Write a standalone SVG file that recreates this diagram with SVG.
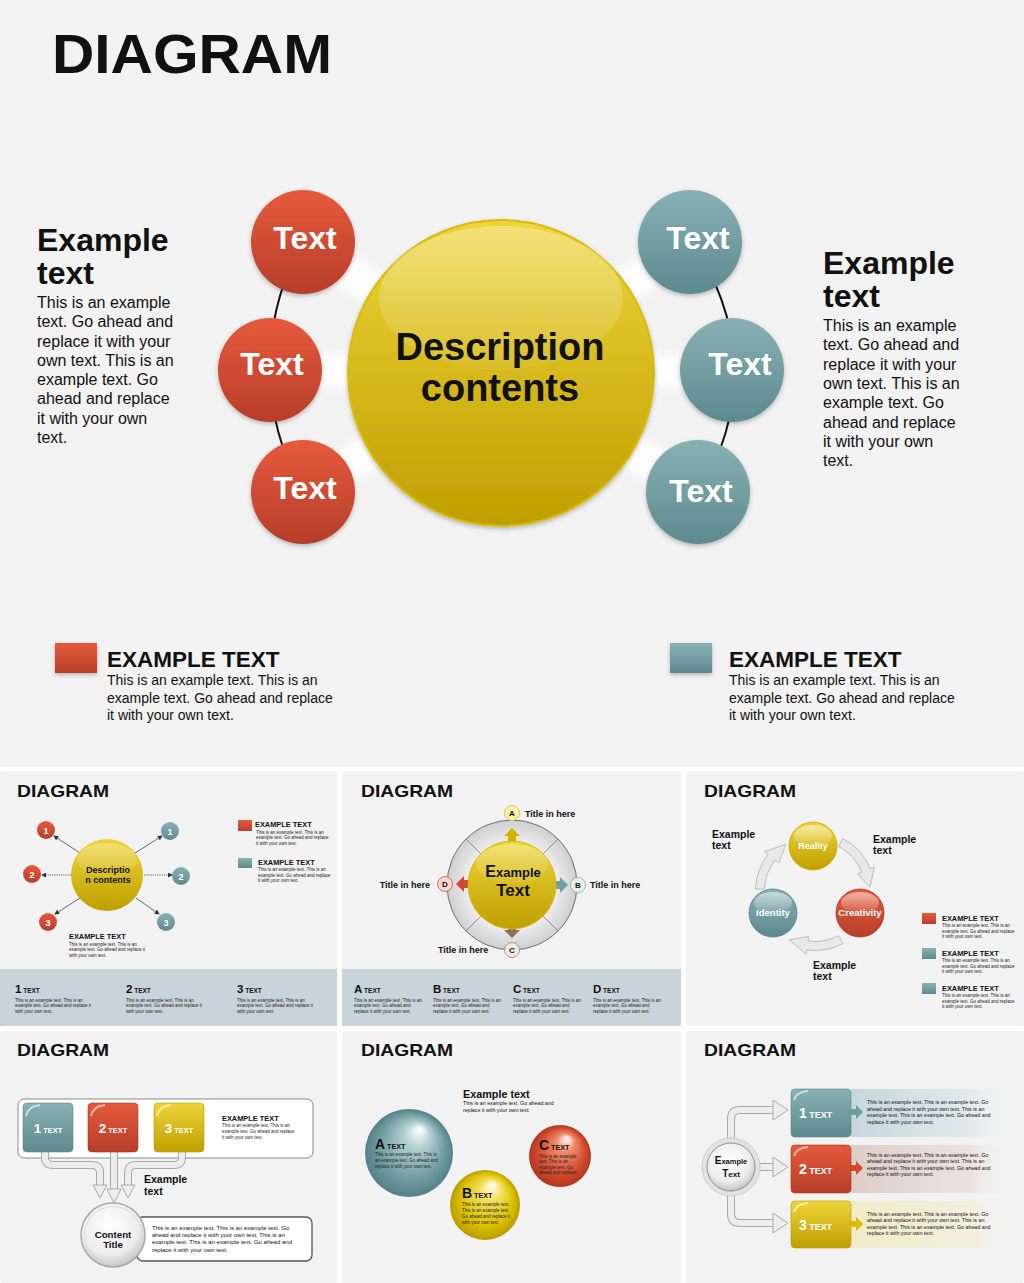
<svg xmlns="http://www.w3.org/2000/svg" width="1024" height="1283" viewBox="0 0 1024 1283">
<style>
text{font-family:"Liberation Sans",Arial,Helvetica,sans-serif;fill:#111}
.b{font-weight:bold}
.w{fill:#fff}
.ph{font-size:16.3px;font-weight:bold}
.s{font-size:4.5px;fill:#222}
.ex{font-size:7.4px;font-weight:bold}
.tl{font-size:9px;font-weight:bold}
.lb{font-size:10.5px;font-weight:bold}
.arr{fill:none;stroke:#a9a9a9;stroke-width:8}
.arrI{fill:none;stroke:#ededed;stroke-width:6}
.ah{fill:#ededed;stroke:#a9a9a9;stroke-width:1}
.pa{stroke:#444;stroke-width:0.8;fill:none;marker-end:url(#mk)}
</style>
<defs>
<marker id="mk" viewBox="0 0 6 6" refX="5" refY="3" markerWidth="5" markerHeight="5" orient="auto" markerUnits="userSpaceOnUse"><path d="M0,0 L6,3 L0,6 Z" fill="#333"/></marker>
<linearGradient id="gR" x1="0" y1="0" x2="0" y2="1"><stop offset="0" stop-color="#e65a3c"/><stop offset="1" stop-color="#b63e2a"/></linearGradient>
<linearGradient id="gT" x1="0" y1="0" x2="0" y2="1"><stop offset="0" stop-color="#88b1b4"/><stop offset="1" stop-color="#5d8a8f"/></linearGradient>
<linearGradient id="gY" x1="0" y1="0" x2="0" y2="1"><stop offset="0" stop-color="#eed43a"/><stop offset="1" stop-color="#bf9f00"/></linearGradient>
<linearGradient id="gGl" x1="0" y1="0" x2="0" y2="1"><stop offset="0" stop-color="#fff" stop-opacity="0.55"/><stop offset="1" stop-color="#fff" stop-opacity="0.05"/></linearGradient>
<linearGradient id="gGl2" x1="0" y1="0" x2="0" y2="1"><stop offset="0" stop-color="#fff" stop-opacity="0.32"/><stop offset="1" stop-color="#fff" stop-opacity="0.06"/></linearGradient>
<radialGradient id="gRing" cx="0.5" cy="0.5" r="0.5"><stop offset="0.6" stop-color="#f4f4f4"/><stop offset="1" stop-color="#cfcfcf"/></radialGradient>
<radialGradient id="gSil" cx="0.45" cy="0.35" r="0.65"><stop offset="0" stop-color="#ffffff"/><stop offset="0.7" stop-color="#ececec"/><stop offset="1" stop-color="#c4c4c4"/></radialGradient>
<radialGradient id="sT" cx="0.5" cy="0.5" r="0.5" fx="0.63" fy="0.22"><stop offset="0" stop-color="#ffffff"/><stop offset="0.3" stop-color="#b2cfd1"/><stop offset="0.75" stop-color="#6f9a9e"/><stop offset="1" stop-color="#56808a"/></radialGradient>
<radialGradient id="sY" cx="0.5" cy="0.5" r="0.5" fx="0.62" fy="0.2"><stop offset="0" stop-color="#ffffff"/><stop offset="0.3" stop-color="#f3e060"/><stop offset="0.75" stop-color="#dcc000"/><stop offset="1" stop-color="#b89c00"/></radialGradient>
<radialGradient id="sR" cx="0.5" cy="0.5" r="0.5" fx="0.62" fy="0.2"><stop offset="0" stop-color="#ffffff"/><stop offset="0.3" stop-color="#f08a6c"/><stop offset="0.75" stop-color="#d24a2e"/><stop offset="1" stop-color="#b03820"/></radialGradient>
<linearGradient id="bT" x1="0" y1="0" x2="1" y2="0"><stop offset="0" stop-color="#c6d7db"/><stop offset="0.75" stop-color="#e2eaec"/><stop offset="1" stop-color="#f2f2f2" stop-opacity="0"/></linearGradient>
<linearGradient id="bR" x1="0" y1="0" x2="1" y2="0"><stop offset="0" stop-color="#ddcdc8"/><stop offset="0.75" stop-color="#ebe3e0"/><stop offset="1" stop-color="#f2f2f2" stop-opacity="0"/></linearGradient>
<linearGradient id="bY" x1="0" y1="0" x2="1" y2="0"><stop offset="0" stop-color="#f0ebc8"/><stop offset="0.75" stop-color="#f2efdc"/><stop offset="1" stop-color="#f2f2f2" stop-opacity="0"/></linearGradient>
<filter id="bl" x="-20%" y="-20%" width="140%" height="140%"><feGaussianBlur stdDeviation="5"/></filter>
<filter id="sh" x="-20%" y="-20%" width="140%" height="140%"><feDropShadow dx="0" dy="2" stdDeviation="2" flood-color="#000" flood-opacity="0.25"/></filter>
</defs>

<rect width="1024" height="1283" fill="#ffffff"/>
<rect x="0" y="0" width="1024" height="767" fill="#f2f2f2"/>
<rect x="0" y="771" width="337" height="255" rx="3" fill="#f2f2f2"/>
<rect x="342" y="771" width="339" height="255" rx="3" fill="#f2f2f2"/>
<rect x="686" y="771" width="338" height="255" rx="3" fill="#f2f2f2"/>
<rect x="0" y="1031" width="337" height="252" rx="3" fill="#f2f2f2"/>
<rect x="342" y="1031" width="339" height="252" rx="3" fill="#f2f2f2"/>
<rect x="686" y="1031" width="338" height="252" rx="3" fill="#f2f2f2"/>
<rect x="0" y="969" width="337" height="57" fill="#c9d3da"/>
<rect x="342" y="969" width="339" height="57" fill="#c9d3da"/>

<!-- ============ MAIN DIAGRAM ============ -->
<text x="52" y="73" font-size="56" font-weight="bold" textLength="280" lengthAdjust="spacingAndGlyphs">DIAGRAM</text>

<g id="connectors">
  <g stroke="#ffffff" stroke-width="34" opacity="0.9" filter="url(#bl)">
    <line x1="303" y1="242" x2="501" y2="373"/>
    <line x1="270" y1="370" x2="501" y2="373"/>
    <line x1="303" y1="492" x2="501" y2="373"/>
    <line x1="690" y1="242" x2="501" y2="373"/>
    <line x1="732" y1="370" x2="501" y2="373"/>
    <line x1="698" y1="492" x2="501" y2="373"/>
  </g>
  <path d="M303 242 A253 253 0 0 0 303 492" fill="none" stroke="#111" stroke-width="2"/>
  <path d="M690 242 A215 215 0 0 1 698 492" fill="none" stroke="#111" stroke-width="2"/>
</g>

<g id="center">
  <circle cx="501" cy="373" r="153" fill="url(#gY)" stroke="#d8bc10" stroke-width="2" filter="url(#sh)"/>
  <ellipse cx="501" cy="298" rx="122" ry="72" fill="url(#gGl2)"/>
  <text x="500" y="360" font-size="38" font-weight="bold" text-anchor="middle">Description</text>
  <text x="500" y="401" font-size="38" font-weight="bold" text-anchor="middle">contents</text>
</g>
<g id="red1"><circle cx="303" cy="242" r="52" fill="url(#gR)" filter="url(#sh)"/><text x="305" y="249" font-size="32" class="b w" text-anchor="middle">Text</text></g>
<g id="red2"><circle cx="270" cy="370" r="52" fill="url(#gR)" filter="url(#sh)"/><text x="272" y="375" font-size="32" class="b w" text-anchor="middle">Text</text></g>
<g id="red3"><circle cx="303" cy="492" r="52" fill="url(#gR)" filter="url(#sh)"/><text x="305" y="499" font-size="32" class="b w" text-anchor="middle">Text</text></g>
<g id="teal1"><circle cx="690" cy="242" r="52" fill="url(#gT)" filter="url(#sh)"/><text x="698" y="249" font-size="32" class="b w" text-anchor="middle">Text</text></g>
<g id="teal2"><circle cx="732" cy="370" r="52" fill="url(#gT)" filter="url(#sh)"/><text x="740" y="375" font-size="32" class="b w" text-anchor="middle">Text</text></g>
<g id="teal3"><circle cx="698" cy="492" r="52" fill="url(#gT)" filter="url(#sh)"/><text x="701" y="502" font-size="32" class="b w" text-anchor="middle">Text</text></g>

<g id="leftText" font-size="16">
  <text x="37" y="251" font-size="32" font-weight="bold">Example</text>
  <text x="37" y="284" font-size="32" font-weight="bold">text</text>
  <text x="37" y="308">This is an example</text>
  <text x="37" y="327">text. Go ahead and</text>
  <text x="37" y="347">replace it with your</text>
  <text x="37" y="366">own text. This is an</text>
  <text x="37" y="385">example text. Go</text>
  <text x="37" y="404">ahead and replace</text>
  <text x="37" y="424">it with your own</text>
  <text x="37" y="443">text.</text>
</g>
<g id="rightText" font-size="16">
  <text x="823" y="274" font-size="32" font-weight="bold">Example</text>
  <text x="823" y="307" font-size="32" font-weight="bold">text</text>
  <text x="823" y="331">This is an example</text>
  <text x="823" y="350">text. Go ahead and</text>
  <text x="823" y="370">replace it with your</text>
  <text x="823" y="389">own text. This is an</text>
  <text x="823" y="408">example text. Go</text>
  <text x="823" y="428">ahead and replace</text>
  <text x="823" y="447">it with your own</text>
  <text x="823" y="466">text.</text>
</g>
<g id="legendRed">
  <rect x="55" y="643" width="42" height="30" fill="url(#gR)" filter="url(#sh)"/>
  <text x="107" y="667" font-size="22.5" font-weight="bold">EXAMPLE TEXT</text>
  <text x="107" y="685" font-size="14">This is an example text. This is an</text>
  <text x="107" y="703" font-size="14">example text. Go ahead and replace</text>
  <text x="107" y="720" font-size="14">it with your own text.</text>
</g>
<g id="legendTeal">
  <rect x="670" y="643" width="42" height="30" fill="url(#gT)" filter="url(#sh)"/>
  <text x="729" y="667" font-size="22.5" font-weight="bold">EXAMPLE TEXT</text>
  <text x="729" y="685" font-size="14">This is an example text. This is an</text>
  <text x="729" y="703" font-size="14">example text. Go ahead and replace</text>
  <text x="729" y="720" font-size="14">it with your own text.</text>
</g>

<!-- ============ PANEL 1 ============ -->
<g id="panel1">
  <text x="17" y="797" class="ph" textLength="92" lengthAdjust="spacingAndGlyphs">DIAGRAM</text>
  <g id="p1-arrows">
    <line x1="80" y1="853" x2="54" y2="836" class="pa"/>
    <line x1="71" y1="875" x2="42" y2="875" class="pa" stroke-dasharray="1.2 1"/>
    <line x1="80" y1="898" x2="55" y2="914" class="pa"/>
    <line x1="135" y1="853" x2="162" y2="836" class="pa"/>
    <line x1="144" y1="875" x2="172" y2="875" class="pa" stroke-dasharray="1.2 1"/>
    <line x1="136" y1="898" x2="159" y2="914" class="pa"/>
  </g>
  <g id="p1-center"><circle cx="107" cy="875" r="36" fill="url(#gY)"/><ellipse cx="107" cy="860" rx="30" ry="17" fill="url(#gGl2)"/>
    <text x="108" y="873" font-size="9" class="b" text-anchor="middle">Descriptio</text>
    <text x="108" y="883" font-size="9" class="b" text-anchor="middle">n contents</text></g>
  <g id="p1-r1"><circle cx="46" cy="830" r="9" fill="url(#gR)"/><text x="46" y="833.5" font-size="9" class="b w" text-anchor="middle">1</text></g>
  <g id="p1-r2"><circle cx="32" cy="874" r="9" fill="url(#gR)"/><text x="32" y="877.5" font-size="9" class="b w" text-anchor="middle">2</text></g>
  <g id="p1-r3"><circle cx="48" cy="922" r="9" fill="url(#gR)"/><text x="48" y="925.5" font-size="9" class="b w" text-anchor="middle">3</text></g>
  <g id="p1-t1"><circle cx="170" cy="831" r="9" fill="url(#gT)"/><text x="170" y="834.5" font-size="9" class="b w" text-anchor="middle">1</text></g>
  <g id="p1-t2"><circle cx="181" cy="876" r="9" fill="url(#gT)"/><text x="181" y="879.5" font-size="9" class="b w" text-anchor="middle">2</text></g>
  <g id="p1-t3"><circle cx="166" cy="922" r="9" fill="url(#gT)"/><text x="166" y="925.5" font-size="9" class="b w" text-anchor="middle">3</text></g>
  <rect x="238" y="820" width="14" height="11" fill="url(#gR)"/>
  <text x="255" y="827.3" class="ex">EXAMPLE TEXT</text>
  <text x="256" y="833.5" class="s">This is an example text. This is an</text>
  <text x="256" y="839" class="s">example text. Go ahead and replace</text>
  <text x="256" y="845" class="s">it with your own text.</text>
  <rect x="238" y="858" width="14" height="10" fill="url(#gT)"/>
  <text x="258" y="865.3" class="ex">EXAMPLE TEXT</text>
  <text x="258" y="871" class="s">This is an example text. This is an</text>
  <text x="258" y="876.5" class="s">example text. Go ahead and replace</text>
  <text x="258" y="882" class="s">it with your own text.</text>
  <text x="69" y="939" class="ex">EXAMPLE TEXT</text>
  <text x="69" y="945.5" class="s">This is an example text. This is an</text>
  <text x="69" y="951" class="s">example text. Go ahead and replace it</text>
  <text x="69" y="956.5" class="s">with your own text.</text>
  <text x="15" y="993.3" class="b"><tspan font-size="11.5">1</tspan><tspan font-size="6.5"> TEXT</tspan></text>
  <text x="15" y="1001.5" class="s">This is an example text. This is an</text>
  <text x="15" y="1007" class="s">example text. Go ahead and replace it</text>
  <text x="15" y="1012.5" class="s">with your own text.</text>
  <text x="126" y="993.3" class="b"><tspan font-size="11.5">2</tspan><tspan font-size="6.5"> TEXT</tspan></text>
  <text x="126" y="1001.5" class="s">This is an example text. This is an</text>
  <text x="126" y="1007" class="s">example text. Go ahead and replace it</text>
  <text x="126" y="1012.5" class="s">with your own text.</text>
  <text x="237" y="993.3" class="b"><tspan font-size="11.5">3</tspan><tspan font-size="6.5"> TEXT</tspan></text>
  <text x="237" y="1001.5" class="s">This is an example text. This is an</text>
  <text x="237" y="1007" class="s">example text. Go ahead and replace it</text>
  <text x="237" y="1012.5" class="s">with your own text.</text>
</g>

<!-- ============ PANEL 2 ============ -->
<g id="panel2">
  <text x="361" y="797" class="ph" textLength="92" lengthAdjust="spacingAndGlyphs">DIAGRAM</text>
  <g id="p2-ring">
    <circle cx="512" cy="885" r="65" fill="url(#gRing)" stroke="#6e6e6e" stroke-width="1"/>
    <g stroke="#7a7a7a" stroke-width="0.8">
      <line x1="543.1" y1="916.1" x2="558" y2="931"/>
      <line x1="480.9" y1="916.1" x2="466" y2="931"/>
      <line x1="480.9" y1="853.9" x2="466" y2="839"/>
      <line x1="543.1" y1="853.9" x2="558" y2="839"/>
    </g>
  </g>
  <g id="p2-arrows">
    <polygon points="512,828 520,836 516,836 516,843 508,843 508,836 504,836" fill="#d1b400"/>
    <polygon points="568,885 560,877 560,881 553,881 553,889 560,889 560,893" fill="#6fa0a4"/>
    <polygon points="512,938 504,930 508,930 508,926 516,926 516,930 520,930" fill="#8a7060"/>
    <polygon points="456,884 464,876 464,880 471,880 471,888 464,888 464,892" fill="#d04a30"/>
  </g>
  <g id="p2-center">
    <circle cx="512" cy="885" r="44" fill="url(#gY)" stroke="#d8bc10" stroke-width="1"/>
    <ellipse cx="512" cy="864" rx="36" ry="20" fill="url(#gGl2)"/>
    <text x="513" y="877" class="b" text-anchor="middle"><tspan font-size="16">E</tspan><tspan font-size="13">xample</tspan></text>
    <text x="513" y="896" class="b" text-anchor="middle"><tspan font-size="17">T</tspan><tspan font-size="17">ext</tspan></text>
  </g>
  <g id="p2-A"><circle cx="512" cy="813" r="7.5" fill="#f8f2b0" stroke="#d9c64a" stroke-width="1"/><text x="512" y="816" font-size="8" class="b" text-anchor="middle">A</text>
    <text x="525" y="817" class="tl">Title in here</text></g>
  <g id="p2-B"><circle cx="578" cy="885" r="7.5" fill="#e4f2f2" stroke="#8fb8bc" stroke-width="1"/><text x="578" y="888" font-size="8" class="b" text-anchor="middle">B</text>
    <text x="590" y="888" class="tl">Title in here</text></g>
  <g id="p2-C"><circle cx="512" cy="950" r="7.5" fill="#f4e8e2" stroke="#b39584" stroke-width="1"/><text x="512" y="953" font-size="8" class="b" text-anchor="middle">C</text>
    <text x="438" y="953" class="tl">Title in here</text></g>
  <g id="p2-D"><circle cx="445" cy="884" r="7.5" fill="#f8d4ce" stroke="#d07868" stroke-width="1"/><text x="445" y="887" font-size="8" class="b" text-anchor="middle">D</text>
    <text x="430" y="888" class="tl" text-anchor="end">Title in here</text></g>
  <text x="354" y="993.3" class="b"><tspan font-size="11.5">A</tspan><tspan font-size="6.5"> TEXT</tspan></text>
  <text x="354" y="1001.5" class="s">This is an example text. This is an</text>
  <text x="354" y="1007" class="s">example text. Go ahead and</text>
  <text x="354" y="1012.5" class="s">replace it with your own text.</text>
  <text x="433" y="993.3" class="b"><tspan font-size="11.5">B</tspan><tspan font-size="6.5"> TEXT</tspan></text>
  <text x="433" y="1001.5" class="s">This is an example text. This is an</text>
  <text x="433" y="1007" class="s">example text. Go ahead and</text>
  <text x="433" y="1012.5" class="s">replace it with your own text.</text>
  <text x="513" y="993.3" class="b"><tspan font-size="11.5">C</tspan><tspan font-size="6.5"> TEXT</tspan></text>
  <text x="513" y="1001.5" class="s">This is an example text. This is an</text>
  <text x="513" y="1007" class="s">example text. Go ahead and</text>
  <text x="513" y="1012.5" class="s">replace it with your own text.</text>
  <text x="593" y="993.3" class="b"><tspan font-size="11.5">D</tspan><tspan font-size="6.5"> TEXT</tspan></text>
  <text x="593" y="1001.5" class="s">This is an example text. This is an</text>
  <text x="593" y="1007" class="s">example text. Go ahead and</text>
  <text x="593" y="1012.5" class="s">replace it with your own text.</text>
</g>

<!-- ============ PANEL 3 ============ -->
<g id="panel3">
  <text x="704" y="797" class="ph" textLength="92" lengthAdjust="spacingAndGlyphs">DIAGRAM</text>
  <g id="p3-arrows" fill="#e9e9e9" stroke="#bdbdbd" stroke-width="1">
    <path d="M842.9 838.5 A59.5 59.5 0 0 1 870.2 868.7 L874.3 867 L869.9 887.2 L857.7 873.8 L861.8 872.1 A50.5 50.5 0 0 0 838.7 846.4 Z"/>
    <path d="M842.9 943.5 A59.5 59.5 0 0 1 806.7 949.9 L806.1 954.4 L789.2 939.6 L808.6 936.6 L808 941 A50.5 50.5 0 0 0 838.7 935.6 Z"/>
    <path d="M755.5 888.9 A59.5 59.5 0 0 1 768.1 854.4 L764.6 851.6 L785.9 844.4 L778.8 862.7 L775.2 859.9 A50.5 50.5 0 0 0 764.5 889.2 Z"/>
  </g>
  <g id="p3-reality"><circle cx="813" cy="846" r="24" fill="url(#gY)" stroke="#c8aa00" stroke-width="0.8"/><ellipse cx="813" cy="836" rx="19" ry="11" fill="url(#gGl)"/>
    <text x="813" y="849" font-size="9" class="b w" text-anchor="middle">Reality</text></g>
  <g id="p3-creativity"><circle cx="860" cy="913" r="24" fill="url(#gR)" stroke="#a83620" stroke-width="0.8"/><ellipse cx="860" cy="903" rx="19" ry="11" fill="url(#gGl)"/>
    <text x="860" y="916" font-size="9.5" class="b w" text-anchor="middle">Creativity</text></g>
  <g id="p3-identity"><circle cx="773" cy="913" r="24" fill="url(#gT)" stroke="#557f84" stroke-width="0.8"/><ellipse cx="773" cy="903" rx="19" ry="11" fill="url(#gGl)"/>
    <text x="773" y="916" font-size="9.5" class="b w" text-anchor="middle">Identity</text></g>
  <text x="712" y="838.3" class="lb">Example</text><text x="712" y="849.3" class="lb">text</text>
  <text x="873" y="843.3" class="lb">Example</text><text x="873" y="854" class="lb">text</text>
  <text x="813" y="969.3" class="lb">Example</text><text x="813" y="980" class="lb">text</text>
  <rect x="922" y="913" width="14" height="11" fill="url(#gR)"/>
  <text x="942" y="921" class="ex">EXAMPLE TEXT</text>
  <text x="942" y="927" class="s">This is an example text. This is an</text>
  <text x="942" y="932.5" class="s">example text. Go ahead and replace</text>
  <text x="942" y="938" class="s">it with your own text.</text>
  <rect x="922" y="948" width="14" height="11" fill="url(#gT)"/>
  <text x="942" y="956" class="ex">EXAMPLE TEXT</text>
  <text x="942" y="962" class="s">This is an example text. This is an</text>
  <text x="942" y="967.5" class="s">example text. Go ahead and replace</text>
  <text x="942" y="973" class="s">it with your own text.</text>
  <rect x="922" y="983" width="14" height="11" fill="url(#gT)"/>
  <text x="942" y="991" class="ex">EXAMPLE TEXT</text>
  <text x="942" y="997" class="s">This is an example text. This is an</text>
  <text x="942" y="1002.5" class="s">example text. Go ahead and replace</text>
  <text x="942" y="1008" class="s">it with your own text.</text>
</g>

<!-- ============ PANEL 4 ============ -->
<g id="panel4">
  <text x="17" y="1056" class="ph" textLength="92" lengthAdjust="spacingAndGlyphs">DIAGRAM</text>
  <rect x="18" y="1099" width="295" height="59" rx="6" fill="#ffffff" stroke="#8a8a8a" stroke-width="1"/>
  <g id="p4-arrows">
    <path class="arr" d="M45 1150 L45 1157 Q45 1165 53 1165 L92 1165 Q100 1165 100 1173 L100 1186"/>
    <path class="arr" d="M114 1150 L114 1190"/>
    <path class="arr" d="M182 1150 L182 1157 Q182 1165 174 1165 L136 1165 Q128 1165 128 1173 L128 1186"/>
    <path class="arrI" d="M45 1150 L45 1157 Q45 1165 53 1165 L92 1165 Q100 1165 100 1173 L100 1187"/>
    <path class="arrI" d="M114 1150 L114 1191"/>
    <path class="arrI" d="M182 1150 L182 1157 Q182 1165 174 1165 L136 1165 Q128 1165 128 1173 L128 1187"/>
    <polygon class="ah" points="93,1185 100,1198 107,1185"/>
    <polygon class="ah" points="107,1189 114,1203 121,1189"/>
    <polygon class="ah" points="121,1185 128,1198 135,1185"/>
  </g>
  <g id="p4-b1"><rect x="23" y="1103" width="50" height="49" rx="4" fill="url(#gT)" stroke="#5f8a8f" stroke-width="0.6"/>
    <path d="M26 1116 Q28 1106 40 1105" stroke="#fff" stroke-opacity="0.6" stroke-width="2" fill="none"/>
    <text x="48" y="1133" class="b w" text-anchor="middle"><tspan font-size="13.5">1</tspan><tspan font-size="7.4"> TEXT</tspan></text></g>
  <g id="p4-b2"><rect x="88" y="1103" width="50" height="49" rx="4" fill="url(#gR)" stroke="#a8381f" stroke-width="0.6"/>
    <path d="M91 1116 Q93 1106 105 1105" stroke="#fff" stroke-opacity="0.6" stroke-width="2" fill="none"/>
    <text x="113" y="1133" class="b w" text-anchor="middle"><tspan font-size="13.5">2</tspan><tspan font-size="7.4"> TEXT</tspan></text></g>
  <g id="p4-b3"><rect x="154" y="1103" width="50" height="49" rx="4" fill="url(#gY)" stroke="#b89a00" stroke-width="0.6"/>
    <path d="M157 1116 Q159 1106 171 1105" stroke="#fff" stroke-opacity="0.6" stroke-width="2" fill="none"/>
    <text x="179" y="1133" class="b w" text-anchor="middle"><tspan font-size="13.5">3</tspan><tspan font-size="7.4"> TEXT</tspan></text></g>
  <text x="222" y="1121" class="ex">EXAMPLE TEXT</text>
  <text x="222" y="1126.7" class="s">This is an example text. This is an</text>
  <text x="222" y="1132.7" class="s">example text. Go ahead and replace</text>
  <text x="222" y="1139" class="s">it with your own text.</text>
  <text x="144" y="1183" class="lb">Example</text><text x="144" y="1195" class="lb">text</text>
  <g id="p4-box"><rect x="137" y="1217" width="175" height="44" rx="6" fill="#ffffff" stroke="#555" stroke-width="1.3"/>
    <text x="152" y="1229.7" font-size="6" fill="#222">This is an example text. This is an example text. Go</text>
    <text x="152" y="1237.3" font-size="6" fill="#222">ahead and replace it with your own text. This is an</text>
    <text x="152" y="1244.3" font-size="6" fill="#222">example text. This is an example text. Go ahead and</text>
    <text x="152" y="1252" font-size="6" fill="#222">replace it with your own text.</text></g>
  <g id="p4-circle"><circle cx="113" cy="1235" r="32" fill="url(#gSil)" stroke="#a8a8a8" stroke-width="1.5"/>
    <circle cx="113" cy="1235" r="28.5" fill="none" stroke="#d6d6d6" stroke-width="0.8"/>
    <text x="113" y="1238" font-size="9.7" class="b" text-anchor="middle">Content</text>
    <text x="113" y="1248" font-size="9.7" class="b" text-anchor="middle">Title</text></g>
</g>

<!-- ============ PANEL 5 ============ -->
<g id="panel5">
  <text x="361" y="1056" class="ph" textLength="92" lengthAdjust="spacingAndGlyphs">DIAGRAM</text>
  <text x="463" y="1098" font-size="10.8" class="b">Example text</text>
  <text x="463" y="1105" font-size="5.3" fill="#222">This is an example text. Go ahead and</text>
  <text x="463" y="1111.5" font-size="5.3" fill="#222">replace it with your own text.</text>
  <g id="p5-A"><circle cx="409" cy="1153" r="44" fill="url(#sT)"/>
    <text x="375" y="1149" class="b"><tspan font-size="14">A</tspan><tspan font-size="7.2"> TEXT</tspan></text>
    <text x="375" y="1156" class="s">This is an example text. This is</text>
    <text x="375" y="1162" class="s">an example text. Go ahead and</text>
    <text x="375" y="1168" class="s">replace it with your own text.</text></g>
  <g id="p5-B"><circle cx="485" cy="1205" r="35" fill="url(#sY)"/>
    <text x="462" y="1198" class="b"><tspan font-size="14">B</tspan><tspan font-size="7.2"> TEXT</tspan></text>
    <text x="462" y="1205.5" class="s">This is an example text.</text>
    <text x="462" y="1211.5" class="s">This is an example text.</text>
    <text x="462" y="1217.5" class="s">Go ahead and replace it</text>
    <text x="462" y="1223.5" class="s">with your own text.</text></g>
  <g id="p5-C"><circle cx="560" cy="1156" r="31" fill="url(#sR)"/>
    <text x="539" y="1150" class="b"><tspan font-size="14">C</tspan><tspan font-size="7.2"> TEXT</tspan></text>
    <text x="539" y="1157.5" class="s">This is an example</text>
    <text x="539" y="1163" class="s">text. This is an</text>
    <text x="539" y="1168.5" class="s">example text. Go</text>
    <text x="539" y="1174" class="s">ahead and replace.</text></g>
</g>

<!-- ============ PANEL 6 ============ -->
<g id="panel6">
  <text x="704" y="1056" class="ph" textLength="92" lengthAdjust="spacingAndGlyphs">DIAGRAM</text>
  <rect x="851" y="1089" width="160" height="48" fill="url(#bT)"/>
  <rect x="851" y="1145" width="160" height="48" fill="url(#bR)"/>
  <rect x="851" y="1201" width="160" height="47" fill="url(#bY)"/>
  <g id="p6-arrows">
    <path class="arr" d="M731 1143 L731 1119 Q731 1110 740 1110 L774 1110"/>
    <path class="arr" d="M750 1167 L774 1167"/>
    <path class="arr" d="M731 1191 L731 1214 Q731 1223 740 1223 L774 1223"/>
    <path class="arrI" d="M731 1143 L731 1119 Q731 1110 740 1110 L775 1110"/>
    <path class="arrI" d="M750 1167 L775 1167"/>
    <path class="arrI" d="M731 1191 L731 1214 Q731 1223 740 1223 L775 1223"/>
    <polygon class="ah" points="773,1100 788,1110 773,1120"/>
    <polygon class="ah" points="773,1157 788,1167 773,1177"/>
    <polygon class="ah" points="773,1213 788,1223 773,1233"/>
  </g>
  <g id="p6-circle"><circle cx="731" cy="1167" r="29" fill="#e2e2e2" stroke="#cfcfcf" stroke-width="1"/>
    <circle cx="731" cy="1167" r="24" fill="url(#gSil)" stroke="#8e8e8e" stroke-width="1"/>
    <text x="731" y="1164" class="b" text-anchor="middle"><tspan font-size="10">E</tspan><tspan font-size="7.5">xample</tspan></text>
    <text x="731" y="1177" class="b" text-anchor="middle"><tspan font-size="10">T</tspan><tspan font-size="8">ext</tspan></text></g>
  <g id="p6-b1"><rect x="791" y="1089" width="60" height="48" rx="4" fill="url(#gT)" stroke="#5a868b" stroke-width="0.6"/>
    <path d="M794 1100 Q796 1092 808 1091" stroke="#fff" stroke-opacity="0.6" stroke-width="2" fill="none"/>
    <polygon points="851,1109 856,1109 856,1105 863,1112 856,1119 856,1115 851,1115" fill="#6d9ca1"/>
    <text x="799" y="1118" class="b w"><tspan font-size="14">1</tspan><tspan font-size="9"> TEXT</tspan></text>
    <text x="867" y="1104" font-size="5.3" fill="#222">This is an example text. This is an example text. Go</text>
    <text x="867" y="1110.5" font-size="5.3" fill="#222">ahead and replace it with your own text. This is an</text>
    <text x="867" y="1117" font-size="5.3" fill="#222">example text. This is an example text. Go ahead and</text>
    <text x="867" y="1123.5" font-size="5.3" fill="#222">replace it with your own text.</text></g>
  <g id="p6-b2"><rect x="791" y="1145" width="60" height="48" rx="4" fill="url(#gR)" stroke="#a8381f" stroke-width="0.6"/>
    <path d="M794 1156 Q796 1148 808 1147" stroke="#fff" stroke-opacity="0.6" stroke-width="2" fill="none"/>
    <polygon points="851,1165 856,1165 856,1161 863,1168 856,1175 856,1171 851,1171" fill="#d44a2e"/>
    <text x="799" y="1174" class="b w"><tspan font-size="14">2</tspan><tspan font-size="9"> TEXT</tspan></text>
    <text x="867" y="1156.5" font-size="5.3" fill="#222">This is an example text. This is an example text. Go</text>
    <text x="867" y="1163" font-size="5.3" fill="#222">ahead and replace it with your own text. This is an</text>
    <text x="867" y="1169.5" font-size="5.3" fill="#222">example text. This is an example text. Go ahead and</text>
    <text x="867" y="1176" font-size="5.3" fill="#222">replace it with your own text.</text></g>
  <g id="p6-b3"><rect x="791" y="1201" width="60" height="47" rx="4" fill="url(#gY)" stroke="#b89a00" stroke-width="0.6"/>
    <path d="M794 1212 Q796 1204 808 1203" stroke="#fff" stroke-opacity="0.6" stroke-width="2" fill="none"/>
    <polygon points="851,1221 856,1221 856,1217 863,1224 856,1231 856,1227 851,1227" fill="#d8bc00"/>
    <text x="799" y="1230" class="b w"><tspan font-size="14">3</tspan><tspan font-size="9"> TEXT</tspan></text>
    <text x="867" y="1215.5" font-size="5.3" fill="#222">This is an example text. This is an example text. Go</text>
    <text x="867" y="1222" font-size="5.3" fill="#222">ahead and replace it with your own text. This is an</text>
    <text x="867" y="1228.5" font-size="5.3" fill="#222">example text. This is an example text. Go ahead and</text>
    <text x="867" y="1235" font-size="5.3" fill="#222">replace it with your own text.</text></g>
</g>
</svg>
